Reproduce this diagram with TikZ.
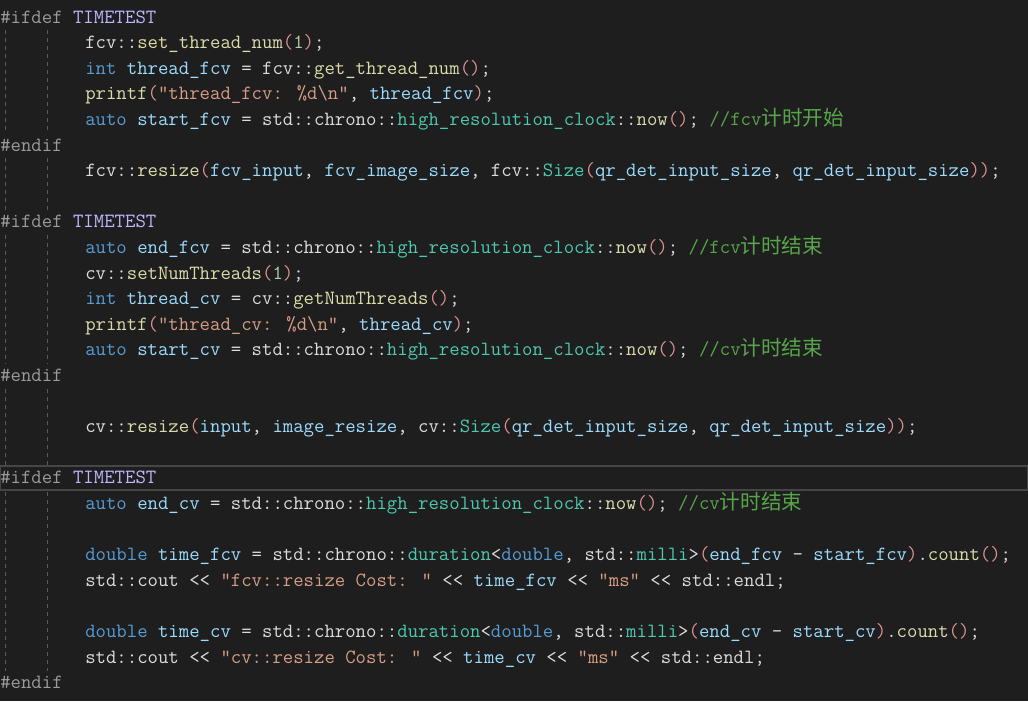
\documentclass[tikz,border=0pt]{standalone}
\usepackage{fontspec}
\newfontfamily\code{Latin Modern Mono}
\newfontfamily\cjk[Scale=1.02]{Noto Sans CJK SC}
\definecolor{bg}{HTML}{1E1E1E}
\definecolor{txt}{HTML}{DCDCDC}
\definecolor{kw}{HTML}{569CD6}
\definecolor{var}{HTML}{9CDCFE}
\definecolor{fn}{HTML}{DCDCAA}
\definecolor{ty}{HTML}{4EC9B0}
\definecolor{st}{HTML}{D69D85}
\definecolor{cm}{HTML}{57A64A}
\definecolor{par}{HTML}{E09090}
\definecolor{num}{HTML}{B5CEA8}
\definecolor{mac}{HTML}{BEB7FF}
\definecolor{pp}{HTML}{9B9B9B}
\definecolor{guide}{HTML}{5A5A5A}
\definecolor{hl}{HTML}{464646}
\newcommand\tkK[1]{\textcolor{kw}{#1}}
\newcommand\tkV[1]{\textcolor{var}{#1}}
\newcommand\tkF[1]{\textcolor{fn}{#1}}
\newcommand\tkT[1]{\textcolor{ty}{#1}}
\newcommand\tkS[1]{\textcolor{st}{#1}}
\newcommand\tkC[1]{\textcolor{cm}{#1}}
\newcommand\tkP[1]{\textcolor{par}{#1}}
\newcommand\tkN[1]{\textcolor{num}{#1}}
\newcommand\tkZ[1]{{\cjk #1}}
\begin{document}
\begin{tikzpicture}[x=0.75pt,y=-0.75pt,
  ln/.style={anchor=base west,inner sep=0pt,text=txt,font=\code\fontsize{15.15}{16}\selectfont},
  gd/.style={draw=guide,line width=0.75pt,dash pattern=on 3pt off 3pt}]
\useasboundingbox (0,0) rectangle (1028,701);
\fill[bg] (0,0) rectangle (1028,701);
\draw[hl,line width=1.5pt] (0,466) rectangle (1028,490);
\foreach \a/\b in {30/133,158/210,235/364,389/466,492/671}{
  \draw[gd] (5,\a) -- (5,\b);
  \draw[gd] (47,\a) -- (47,\b);
}
\node[ln] (l0) at (0,{23+25.6*0}) {\textcolor{pp}{\#ifdef} \textcolor{mac}{TIMETEST}};
\node[ln] (l1) at (85,{23+25.6*1}) {fcv::\tkF{set\_thread\_num}\tkP{(}\tkN{1}\tkP{)};};
\node[ln] (l2) at (85,{23+25.6*2}) {\tkK{int} \tkV{thread\_fcv} = fcv::\tkF{get\_thread\_num}\tkP{()};};
\node[ln] (l3) at (85,{23+25.6*3}) {\tkF{printf}\tkP{(}\tkS{"thread\_fcv: \%d\textbackslash n"}, \tkV{thread\_fcv}\tkP{)};};
\node[ln] (l4) at (85,{23+25.6*4}) {\tkK{auto} \tkV{start\_fcv} = std::chrono::\tkT{high\_resolution\_clock}::\tkF{now}\tkP{()}; \tkC{//fcv\tkZ{计时开始}}};
\node[ln] (l5) at (0,{23+25.6*5}) {\textcolor{pp}{\#endif}};
\node[ln] (l6) at (85,{23+25.6*6}) {fcv::\tkF{resize}\tkP{(}\tkV{fcv\_input}, \tkV{fcv\_image\_size}, fcv::\tkT{Size}\tkP{(}\tkV{qr\_det\_input\_size}, \tkV{qr\_det\_input\_size}\tkP{))};};
\node[ln] (l8) at (0,{23+25.6*8}) {\textcolor{pp}{\#ifdef} \textcolor{mac}{TIMETEST}};
\node[ln] (l9) at (85,{23+25.6*9}) {\tkK{auto} \tkV{end\_fcv} = std::chrono::\tkT{high\_resolution\_clock}::\tkF{now}\tkP{()}; \tkC{//fcv\tkZ{计时结束}}};
\node[ln] (l10) at (85,{23+25.6*10}) {cv::\tkF{setNumThreads}\tkP{(}\tkN{1}\tkP{)};};
\node[ln] (l11) at (85,{23+25.6*11}) {\tkK{int} \tkV{thread\_cv} = cv::\tkF{getNumThreads}\tkP{()};};
\node[ln] (l12) at (85,{23+25.6*12}) {\tkF{printf}\tkP{(}\tkS{"thread\_cv: \%d\textbackslash n"}, \tkV{thread\_cv}\tkP{)};};
\node[ln] (l13) at (85,{23+25.6*13}) {\tkK{auto} \tkV{start\_cv} = std::chrono::\tkT{high\_resolution\_clock}::\tkF{now}\tkP{()}; \tkC{//cv\tkZ{计时结束}}};
\node[ln] (l14) at (0,{23+25.6*14}) {\textcolor{pp}{\#endif}};
\node[ln] (l16) at (85,{23+25.6*16}) {cv::\tkF{resize}\tkP{(}\tkV{input}, \tkV{image\_resize}, cv::\tkT{Size}\tkP{(}\tkV{qr\_det\_input\_size}, \tkV{qr\_det\_input\_size}\tkP{))};};
\node[ln] (l18) at (0,{23+25.6*18}) {\textcolor{pp}{\#ifdef} \textcolor{mac}{TIMETEST}};
\node[ln] (l19) at (85,{23+25.6*19}) {\tkK{auto} \tkV{end\_cv} = std::chrono::\tkT{high\_resolution\_clock}::\tkF{now}\tkP{()}; \tkC{//cv\tkZ{计时结束}}};
\node[ln] (l21) at (85,{23+25.6*21}) {\tkK{double} \tkV{time\_fcv} = std::chrono::\tkT{duration}<\tkK{double}, std::\tkT{milli}>\tkP{(}\tkV{end\_fcv} - \tkV{start\_fcv}\tkP{)}.\tkF{count}\tkP{()};};
\node[ln] (l22) at (85,{23+25.6*22}) {std::cout << \tkS{"fcv::resize Cost: "} << \tkV{time\_fcv} << \tkS{"ms"} << std::endl;};
\node[ln] (l24) at (85,{23+25.6*24}) {\tkK{double} \tkV{time\_cv} = std::chrono::\tkT{duration}<\tkK{double}, std::\tkT{milli}>\tkP{(}\tkV{end\_cv} - \tkV{start\_cv}\tkP{)}.\tkF{count}\tkP{()};};
\node[ln] (l25) at (85,{23+25.6*25}) {std::cout << \tkS{"cv::resize Cost: "} << \tkV{time\_cv} << \tkS{"ms"} << std::endl;};
\node[ln] (l26) at (0,{23+25.6*26}) {\textcolor{pp}{\#endif}};
\end{tikzpicture}
\end{document}
